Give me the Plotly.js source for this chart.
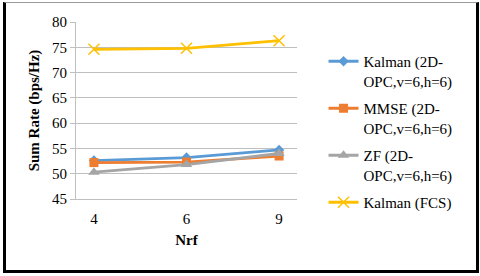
<!DOCTYPE html>
<html>
<head>
<meta charset="utf-8">
<script src="https://cdn.plot.ly/plotly-3.0.1.min.js"></script>
<style>
html,body{margin:0;padding:0;background:#fff;}
#wrap{position:absolute;left:3px;top:2px;width:470px;height:267px;border-top:1px solid #999;border-left:3px solid #000;border-right:3px solid #000;border-bottom:3px solid #000;box-sizing:content-box;}
#chart{position:absolute;left:0;top:0;width:480px;height:276px;}
</style>
</head>
<body>
<div id="chart"></div>
<div id="wrap" style="pointer-events:none"></div>
<script>
const categories = ['4', '6', '9'];
const kalman2D = [52.6, 53.2, 54.7];
const mmse2D = [52.2, 52.3, 53.5];
const zf2D = [50.3, 51.8, 54.0];
const kalmanFCS = [74.6, 74.8, 76.3];
const seriesNames = ['Kalman (2D-<br>OPC,v=6,h=6)', 'MMSE (2D-<br>OPC,v=6,h=6)', 'ZF (2D-<br>OPC,v=6,h=6)', 'Kalman (FCS)'];
const yTicks = [45, 50, 55, 60, 65, 70, 75, 80];

const font = 'Liberation Serif';
const traces = [
  {x: categories, y: kalman2D, name: seriesNames[0], legendgroup: 'g1', mode: 'lines+markers',
   line: {color: '#5B9BD5', width: 2.8}, marker: {symbol: 'diamond', size: 8, color: '#5B9BD5'}},
  {x: categories, y: mmse2D, name: seriesNames[1], legendgroup: 'g2', mode: 'lines+markers',
   line: {color: '#ED7D31', width: 2.8}, marker: {symbol: 'square', size: 9, color: '#ED7D31'}},
  {x: categories, y: zf2D, name: seriesNames[2], legendgroup: 'g3', mode: 'lines+markers',
   line: {color: '#A5A5A5', width: 2.8}, marker: {symbol: 'triangle-up', size: 10, color: '#A5A5A5'}},
  {x: categories, y: kalmanFCS, name: seriesNames[3], legendgroup: 'g4', mode: 'lines+markers',
   line: {color: '#FFC000', width: 2.8}, marker: {symbol: 'x-thin', size: 11, color: '#FFC000', line: {color: '#FFC000', width: 1.5}}}
];

const layout = {
  width: 480, height: 276,
  margin: {l: 76, r: 183, t: 22, b: 77},
  paper_bgcolor: '#fff', plot_bgcolor: '#fff',
  font: {family: font, size: 15, color: '#000'},
  showlegend: true,
  legend: {x: 1.12, xanchor: 'left', y: 0.87, yanchor: 'top', valign: 'top',
    font: {family: font, size: 15, color: '#000'}, bgcolor: 'rgba(0,0,0,0)', tracegroupgap: 5},
  xaxis: {type: 'category', showgrid: false, showline: true, linecolor: '#BFBFBF', linewidth: 1,
    ticks: '', tickfont: {family: font, size: 15}, ticklabelstandoff: 6,
    title: {text: '<b>Nrf</b>', font: {family: font, size: 15}, standoff: 8}},
  yaxis: {range: [45, 80], tickvals: yTicks, showgrid: true, gridcolor: '#BFBFBF', gridwidth: 1,
    showline: true, linecolor: '#BFBFBF', zeroline: false, ticks: 'outside', ticklen: 5, tickcolor: '#BFBFBF',
    tickfont: {family: font, size: 15},
    title: {text: '<b>Sum Rate (bps/Hz)</b>', font: {family: font, size: 15}, standoff: 8}}
};

Plotly.newPlot('chart', traces, layout, {displayModeBar: false, staticPlot: true});
</script>
</body>
</html>
